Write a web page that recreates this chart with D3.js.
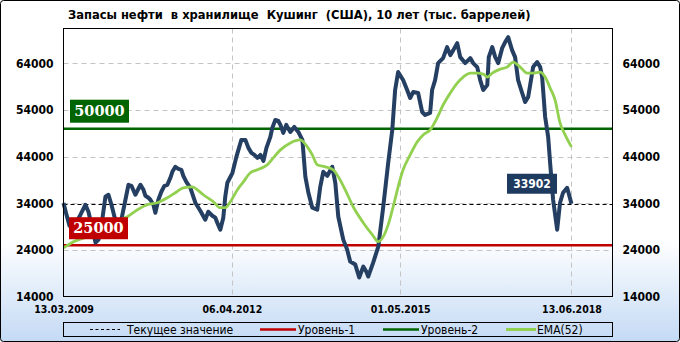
<!DOCTYPE html>
<html>
<head>
<meta charset="utf-8">
<script src="https://cdn.jsdelivr.net/npm/d3@7"></script>
<style>
  body { margin: 0; background: #fff; }
</style>
</head>
<body>
<div id="chart"></div>
<script>
"use strict";

const chartTitle = "Запасы нефти  в хранилище  Кушинг  (США), 10 лет (тыс. баррелей)";

// weekly stocks (thousand barrels)
const stockDates = [
  "2009-03-13","2009-04-02","2009-04-22","2009-06-01","2009-07-04","2009-08-06","2009-08-26","2009-09-15",
  "2009-10-12","2009-11-01","2009-11-21","2009-12-17","2010-01-06","2010-01-26","2010-02-15","2010-03-13",
  "2010-04-02","2010-04-29","2010-05-19","2010-06-08","2010-07-04","2010-08-07","2010-08-27","2010-09-09",
  "2010-09-29","2010-10-12","2010-11-01","2010-11-14","2010-12-04","2010-12-24","2011-01-13","2011-02-02",
  "2011-02-22","2011-03-07","2011-03-27","2011-04-16","2011-05-06","2011-05-19","2011-06-08","2011-07-05",
  "2011-08-07","2011-09-09","2011-10-12","2011-11-01","2011-11-28","2011-12-18","2011-12-31","2012-01-20",
  "2012-02-09","2012-02-22","2012-03-07","2012-04-10","2012-05-06","2012-06-08","2012-07-05","2012-07-25",
  "2012-08-14","2012-09-03","2012-09-23","2012-10-13","2012-11-02","2012-11-22","2012-12-18","2012-12-31",
  "2013-01-20","2013-02-09","2013-02-23","2013-03-14","2013-04-03","2013-04-30","2013-05-26","2013-06-22",
  "2013-07-19","2013-08-08","2013-08-28","2013-09-23","2013-10-26","2013-11-15","2013-12-05","2014-01-01",
  "2014-02-03","2014-02-23","2014-03-15","2014-04-17","2014-05-13","2014-06-02","2014-07-06","2014-08-01",
  "2014-08-28","2014-09-17","2014-09-30","2014-11-02","2014-12-06","2015-01-08","2015-02-10","2015-03-09",
  "2015-03-28","2015-04-17","2015-05-20","2015-06-16","2015-07-06","2015-07-26","2015-08-28","2015-09-24",
  "2015-10-14","2015-11-16","2015-11-29","2015-12-19","2016-01-08","2016-02-10","2016-03-08","2016-03-29",
  "2016-04-18","2016-05-14","2016-06-03","2016-07-06","2016-08-09","2016-08-28","2016-09-24","2016-10-14",
  "2016-11-03","2016-11-30","2016-12-10","2017-01-02","2017-01-22","2017-02-11","2017-03-09","2017-03-29",
  "2017-04-18","2017-05-14","2017-06-03","2017-06-23","2017-07-20","2017-08-09","2017-08-29","2017-10-01",
  "2017-10-28","2017-11-17","2017-11-30","2017-12-20","2018-01-09","2018-01-22","2018-02-11","2018-03-10",
  "2018-03-29","2018-04-18","2018-05-15","2018-05-28","2018-06-13"
];
const stockValues = [
  34050,31550,29190,29620,31550,33690,32190,29410,
  25560,26200,29410,35400,35830,33690,31120,29190,
  30480,34760,37970,37750,35830,37970,36900,35610,
  35190,34760,33690,31980,34760,36470,37750,37970,
  39470,40750,41820,41390,41180,39890,38610,37330,
  34120,32400,30480,32190,31330,30910,29840,28340,
  30910,35400,38400,40540,43960,47600,47600,45890,
  44820,44390,43750,44390,43100,45890,48240,50170,
  51880,51660,50810,49100,50810,49310,50380,49310,
  47600,39680,36260,33050,32620,37540,40750,39890,
  41820,38400,31120,26200,24060,21490,20850,18070,
  20420,19350,18280,21280,24700,33260,42680,49740,
  58300,62150,60440,58300,56590,57870,57660,53590,
  52950,53380,58300,60440,64080,65150,67500,65790,
  66860,68360,65360,64080,65150,64080,63220,60440,
  58300,59370,65360,67500,65360,64080,67290,68570,
  69640,66860,65360,60440,57660,55730,56800,63220,
  64290,63220,61080,52520,48240,42680,34760,28340,
  34120,36260,37330,35830,33902
];

// EMA(52) of the same series
const emaDates = [
  "2009-03-13","2009-05-18","2009-08-20","2009-11-14","2010-02-08","2010-05-12","2010-07-18","2010-09-22",
  "2010-11-28","2011-02-02","2011-03-27","2011-05-19","2011-07-18","2011-08-20","2011-09-29","2011-12-05",
  "2012-01-20","2012-02-22","2012-03-27","2012-05-13","2012-06-22","2012-08-07","2012-09-23","2012-11-28",
  "2013-01-07","2013-02-23","2013-04-30","2013-07-05","2013-08-21","2013-09-23","2013-10-26","2013-12-18",
  "2014-02-10","2014-03-15","2014-04-30","2014-06-22","2014-08-28","2014-10-27","2014-12-06","2015-01-08",
  "2015-02-10","2015-03-15","2015-04-17","2015-05-20","2015-07-06","2015-08-22","2015-09-30","2015-11-16",
  "2016-01-01","2016-02-10","2016-03-29","2016-05-14","2016-06-23","2016-08-09","2016-09-24","2016-11-03",
  "2016-11-30","2017-01-02","2017-02-24","2017-04-11","2017-05-21","2017-07-07","2017-08-22","2017-10-01",
  "2017-11-17","2017-12-20","2018-01-22","2018-02-24","2018-03-29","2018-05-02","2018-06-13"
];
const emaValues = [
  24420,25770,26840,28340,29840,31120,32620,33690,
  34120,35190,36260,37330,37540,36900,35830,34330,
  33050,33050,34330,36900,38610,40540,41180,42250,
  43750,45460,46960,47600,46100,44390,42250,41820,
  41180,39680,36900,33260,29840,27270,25770,26840,
  29410,33260,37540,41180,44390,47170,48670,49740,
  52310,55090,57660,59800,61080,61940,61940,61720,
  61080,61940,62790,63220,64290,63220,61940,61940,
  62150,61080,58730,56160,51240,48670,46100
];

const yTicks = [14000, 24000, 34000, 44000, 54000, 64000];
const xTickDates = ["2009-03-13", "2012-04-06", "2015-05-01", "2018-06-13"];
const level1 = 25000;
const level2 = 50000;
const lastValue = 33902;
const legendLabels = ["Текущее значение", "Уровень-1", "Уровень-2", "EMA(52)"];

function init() {
    draw();
};
window.onload = init;

function draw() {
    const width = 680, height = 342;
    const plot = {left: 63.5, right: 612.5, top: 28.5, bottom: 296.5};
    const parse = d3.timeParse("%Y-%m-%d");
    const fmt = d3.timeFormat("%d.%m.%Y");
    const sans = "'DejaVu Sans Condensed', 'DejaVu Sans', sans-serif";

    const navy = "#243f62", ema = "#92d050", red = "#c00000", green = "#006400";

    const svg = d3.select("#chart")
                  .append("svg")
                  .attr("width", width)
                  .attr("height", height)
                  .style("display", "block");

    // background: white fading to pale blue at the bottom
    const grad = svg.append("defs").append("linearGradient")
                    .attr("id", "bg").attr("x1", 0).attr("y1", 0).attr("x2", 0).attr("y2", 1);
    grad.append("stop").attr("offset", "0%").attr("stop-color", "#ffffff");
    grad.append("stop").attr("offset", "70%").attr("stop-color", "#ffffff");
    grad.append("stop").attr("offset", "100%").attr("stop-color", "#c4daf5");

    svg.append("rect")
       .attr("x", 0.5).attr("y", 0.5)
       .attr("width", width - 1).attr("height", height - 1)
       .attr("rx", 3)
       .attr("fill", "url(#bg)")
       .attr("stroke", "#000");

    const x = d3.scaleTime()
                .domain([parse("2009-03-13"), parse("2019-03-13")])
                .range([plot.left, plot.right]);
    const y = d3.scaleLinear()
                .domain([14000, 71500])
                .range([plot.bottom, plot.top]);

    // grid
    svg.append("g")
       .selectAll("line")
       .data(yTicks.slice(1))
       .enter().append("line")
         .attr("x1", plot.left).attr("x2", plot.right)
         .attr("y1", d => Math.round(y(d)) + 0.5)
         .attr("y2", d => Math.round(y(d)) + 0.5)
         .attr("stroke", "#c4c4c4")
         .attr("stroke-dasharray", "5,4");
    svg.append("g")
       .selectAll("line")
       .data(xTickDates.slice(1))
       .enter().append("line")
         .attr("x1", d => Math.round(x(parse(d))) + 0.5)
         .attr("x2", d => Math.round(x(parse(d))) + 0.5)
         .attr("y1", plot.top).attr("y2", plot.bottom)
         .attr("stroke", "#c4c4c4")
         .attr("stroke-dasharray", "5,4");

    // axes
    const yLeft = svg.append("g")
                     .attr("transform", `translate(${plot.left}, 0)`)
                     .call(d3.axisLeft(y).tickValues(yTicks).tickSize(0).tickPadding(10).tickFormat(d3.format("d")));
    const yRight = svg.append("g")
                      .attr("transform", `translate(${plot.right}, 0)`)
                      .call(d3.axisRight(y).tickValues(yTicks).tickSize(0).tickPadding(10).tickFormat(d3.format("d")));
    const xAxis = svg.append("g")
                     .attr("transform", `translate(0, ${plot.bottom})`)
                     .call(d3.axisBottom(x).tickValues(xTickDates.map(parse)).tickSize(0).tickPadding(9).tickFormat(fmt));

    [yLeft, yRight, xAxis].forEach(g => {
        g.select(".domain").remove();
        g.selectAll("text")
         .attr("fill", "#000")
         .attr("font-family", sans)
         .attr("font-weight", "bold");
    });
    yLeft.selectAll("text").attr("font-size", 12);
    yRight.selectAll("text").attr("font-size", 12);
    xAxis.selectAll("text").attr("font-size", 10.5);

    // level lines
    svg.append("line")
       .attr("x1", plot.left).attr("x2", plot.right)
       .attr("y1", y(level2)).attr("y2", y(level2))
       .attr("stroke", green).attr("stroke-width", 2.5);
    svg.append("line")
       .attr("x1", plot.left).attr("x2", plot.right)
       .attr("y1", y(level1)).attr("y2", y(level1))
       .attr("stroke", red).attr("stroke-width", 2.5);

    // current value
    svg.append("line")
       .attr("x1", plot.left).attr("x2", plot.right)
       .attr("y1", Math.round(y(lastValue)) + 0.5).attr("y2", Math.round(y(lastValue)) + 0.5)
       .attr("stroke", "#000").attr("stroke-dasharray", "4,3");

    const line = d3.line()
                   .x(d => x(d.date))
                   .y(d => y(d.value));

    const stock = stockDates.map((d, i) => ({date: parse(d), value: stockValues[i]}));
    const emaData = emaDates.map((d, i) => ({date: parse(d), value: emaValues[i]}));

    svg.append("path")
       .datum(stock)
       .attr("d", line)
       .attr("fill", "none")
       .attr("stroke", navy)
       .attr("stroke-width", 4)
       .attr("stroke-linejoin", "round");

    svg.append("path")
       .datum(emaData)
       .attr("d", line.curve(d3.curveMonotoneX))
       .attr("fill", "none")
       .attr("stroke", ema)
       .attr("stroke-width", 2.8);

    // plot frame
    svg.append("rect")
       .attr("x", plot.left).attr("y", plot.top)
       .attr("width", plot.right - plot.left).attr("height", plot.bottom - plot.top)
       .attr("fill", "none").attr("stroke", "#000");

    // value tags
    function tag(cx, cy, w, h, fill, text, font, size) {
        const g = svg.append("g");
        g.append("rect")
         .attr("x", cx - w / 2).attr("y", cy - h / 2)
         .attr("width", w).attr("height", h)
         .attr("fill", fill);
        g.append("text")
         .attr("x", cx).attr("y", cy)
         .attr("dy", "0.36em")
         .attr("text-anchor", "middle")
         .attr("fill", "#fff")
         .attr("font-family", font)
         .attr("font-size", size)
         .attr("font-weight", "bold")
         .text(text);
    }
    tag(99.5, y(level2) - 17.5, 59, 23, green, d3.format("d")(level2), "'DejaVu Serif', serif", 14.5);
    tag(98.5, y(level1) - 17, 59, 22, red, d3.format("d")(level1), "'DejaVu Serif', serif", 14.5);
    tag(532, y(lastValue) - 20, 50, 20, "#1f3a5f", d3.format("d")(lastValue), sans, 12);

    // title
    svg.append("text")
       .attr("x", 68).attr("y", 18.5)
       .attr("font-family", sans)
       .attr("font-weight", "bold")
       .attr("font-size", 12.8)
       .style("white-space", "pre")
       .text(chartTitle);

    // legend
    const legend = svg.append("g");
    legend.append("rect")
          .attr("x", 63.5).attr("y", 322.5)
          .attr("width", 549).attr("height", 14)
          .attr("fill", "none").attr("stroke", "#000");
    const items = [
        {x1: 90, x2: 120, tx: 127, stroke: "#000", w: 1, dash: "3,2.5"},
        {x1: 260, x2: 296, tx: 298, stroke: red, w: 2.5, dash: null},
        {x1: 383, x2: 419, tx: 421, stroke: green, w: 2.5, dash: null},
        {x1: 506, x2: 536, tx: 537, stroke: ema, w: 3, dash: null}
    ];
    items.forEach((it, i) => {
        legend.append("line")
              .attr("x1", it.x1).attr("x2", it.x2)
              .attr("y1", 329.5).attr("y2", 329.5)
              .attr("stroke", it.stroke)
              .attr("stroke-width", it.w)
              .attr("stroke-dasharray", it.dash);
        legend.append("text")
              .attr("x", it.tx).attr("y", 329.5)
              .attr("dy", "0.36em")
              .attr("font-family", sans)
              .attr("font-size", 12)
              .text(legendLabels[i]);
    });
}
</script>
</body>
</html>
